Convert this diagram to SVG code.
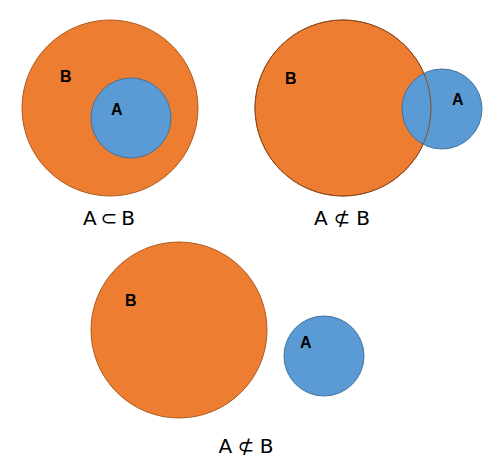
<svg xmlns="http://www.w3.org/2000/svg" width="500" height="469" viewBox="0 0 500 469">
<style>
.b{fill:#ED7D31;stroke:#AE5A21;stroke-width:1}
.bo{fill:none;stroke:#8A4A1F;stroke-width:1}
.a{fill:#5B9BD5;stroke:#41719C;stroke-width:1}
.lbl{font-family:"Liberation Sans",Arial,sans-serif;font-weight:bold;font-size:16px;fill:#000}
.cap{font-family:"DejaVu Sans",sans-serif;font-size:20px;fill:#000;text-anchor:middle}
</style>
<rect width="500" height="469" fill="#fff"/>
<g id="set1">
<circle class="b" cx="110" cy="108" r="88"/>
<circle class="a" cx="131" cy="118" r="40"/>
<text class="lbl" x="60" y="82">B</text>
<text class="lbl" x="111" y="115">A</text>
<text class="cap" x="109" y="225" textLength="52" lengthAdjust="spacing">A ⊂ B</text>
</g>
<g id="set2">
<circle class="b" cx="343" cy="108" r="88"/>
<circle class="a" cx="442" cy="109" r="40"/>
<circle class="bo" cx="343" cy="108" r="88"/>
<text class="lbl" x="285" y="84">B</text>
<text class="lbl" x="452" y="105">A</text>
<text class="cap" x="342" y="225" textLength="56" lengthAdjust="spacing">A ⊄ B</text>
</g>
<g id="set3">
<circle class="b" cx="179" cy="330" r="88"/>
<circle class="a" cx="324" cy="356" r="40"/>
<text class="lbl" x="125" y="306">B</text>
<text class="lbl" x="300" y="348">A</text>
<text class="cap" x="246" y="453" textLength="55" lengthAdjust="spacing">A ⊄ B</text>
</g>
<g id="connectors"></g>
</svg>
